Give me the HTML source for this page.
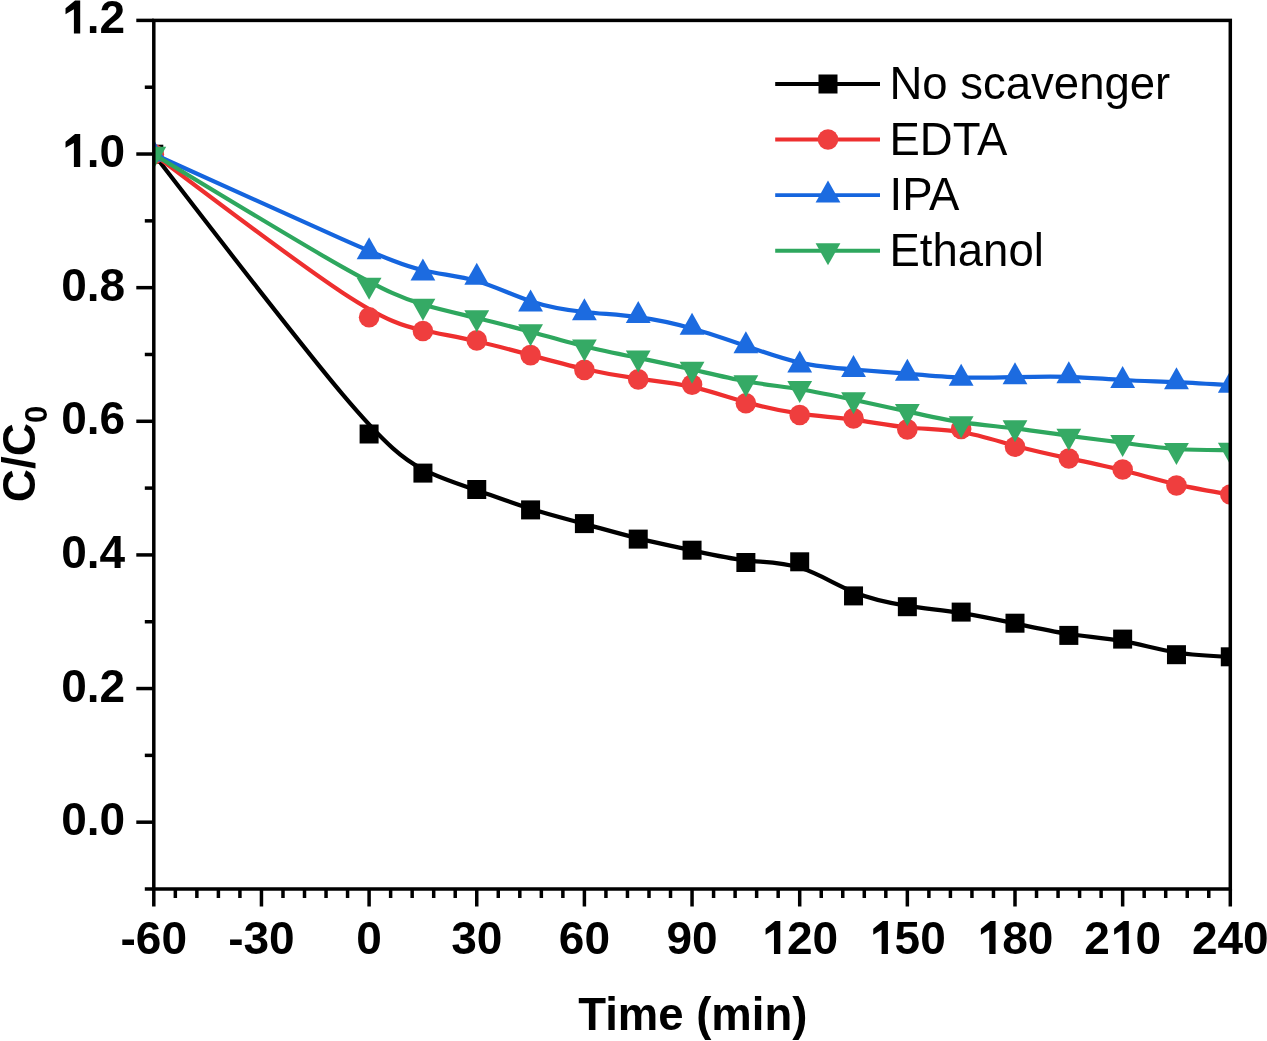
<!DOCTYPE html>
<html><head><meta charset="utf-8"><style>
html,body{margin:0;padding:0;background:#fff;}
body{width:1267px;height:1041px;overflow:hidden;}
svg{display:block;filter:blur(0.35px);}
.tl{font-family:"Liberation Sans",sans-serif;font-weight:bold;font-size:46px;fill:#000;}
.lg{font-family:"Liberation Sans",sans-serif;font-size:45.5px;fill:#000;}
</style></head><body>
<svg width="1267" height="1041" viewBox="0 0 1267 1041">
<defs><clipPath id="pc"><rect x="153.80" y="20.40" width="1076.50" height="868.60"/></clipPath></defs>
<g clip-path="url(#pc)">
<path d="M153.80,154.20C225.57,247.47 297.33,340.73 342.19,393.88C387.04,447.03 404.98,460.07 422.93,469.32C440.87,478.57 458.81,484.03 476.75,490.17C494.69,496.30 512.63,503.10 530.58,508.78C548.52,514.47 566.46,519.03 584.40,523.90C602.34,528.77 620.28,533.93 638.23,538.37C656.17,542.80 674.11,546.50 692.05,550.40C709.99,554.30 727.93,558.40 745.88,560.33C763.82,562.27 781.76,562.03 799.70,567.60C817.64,573.17 835.58,584.53 853.52,592.02C871.47,599.50 889.41,603.10 907.35,605.80C925.29,608.50 943.23,610.30 961.17,613.05C979.12,615.80 997.06,619.50 1015.00,623.38C1032.94,627.27 1050.88,631.33 1068.83,633.98C1086.77,636.63 1104.71,637.87 1122.65,641.08C1140.59,644.30 1158.53,649.50 1176.47,652.45C1194.42,655.40 1212.36,656.10 1230.30,656.80" fill="none" stroke="#000000" stroke-width="4.20" stroke-linejoin="round"/>
<rect x="144.30" y="144.70" width="19.00" height="19.00" fill="#000000"/>
<rect x="359.60" y="424.50" width="19.00" height="19.00" fill="#000000"/>
<rect x="413.43" y="463.60" width="19.00" height="19.00" fill="#000000"/>
<rect x="467.25" y="480.00" width="19.00" height="19.00" fill="#000000"/>
<rect x="521.08" y="500.40" width="19.00" height="19.00" fill="#000000"/>
<rect x="574.90" y="514.10" width="19.00" height="19.00" fill="#000000"/>
<rect x="628.73" y="529.60" width="19.00" height="19.00" fill="#000000"/>
<rect x="682.55" y="540.70" width="19.00" height="19.00" fill="#000000"/>
<rect x="736.38" y="553.00" width="19.00" height="19.00" fill="#000000"/>
<rect x="790.20" y="552.30" width="19.00" height="19.00" fill="#000000"/>
<rect x="844.03" y="586.40" width="19.00" height="19.00" fill="#000000"/>
<rect x="897.85" y="597.20" width="19.00" height="19.00" fill="#000000"/>
<rect x="951.67" y="602.60" width="19.00" height="19.00" fill="#000000"/>
<rect x="1005.50" y="613.70" width="19.00" height="19.00" fill="#000000"/>
<rect x="1059.33" y="625.90" width="19.00" height="19.00" fill="#000000"/>
<rect x="1113.15" y="629.60" width="19.00" height="19.00" fill="#000000"/>
<rect x="1166.97" y="645.20" width="19.00" height="19.00" fill="#000000"/>
<rect x="1220.80" y="647.30" width="19.00" height="19.00" fill="#000000"/>
<path d="M153.80,154.20C225.57,208.57 297.33,262.93 342.19,292.40C387.04,321.87 404.98,326.43 422.93,330.28C440.87,334.13 458.81,337.27 476.75,341.28C494.69,345.30 512.63,350.20 530.58,355.12C548.52,360.03 566.46,364.97 584.40,369.02C602.34,373.07 620.28,376.23 638.23,378.68C656.17,381.13 674.11,382.87 692.05,386.85C709.99,390.83 727.93,397.07 745.88,402.13C763.82,407.20 781.76,411.10 799.70,413.62C817.64,416.13 835.58,417.27 853.52,419.67C871.47,422.07 889.41,425.73 907.35,427.48C925.29,429.23 943.23,429.07 961.17,431.97C979.12,434.87 997.06,440.83 1015.00,445.77C1032.94,450.70 1050.88,454.60 1068.83,458.38C1086.77,462.17 1104.71,465.83 1122.65,470.33C1140.59,474.83 1158.53,480.17 1176.47,484.33C1194.42,488.50 1212.36,491.50 1230.30,494.50" fill="none" stroke="#EE2F2F" stroke-width="4.20" stroke-linejoin="round"/>
<circle cx="153.80" cy="154.20" r="10.30" fill="#EF3E3E"/>
<circle cx="369.10" cy="317.30" r="10.30" fill="#EF3E3E"/>
<circle cx="422.93" cy="331.00" r="10.30" fill="#EF3E3E"/>
<circle cx="476.75" cy="340.40" r="10.30" fill="#EF3E3E"/>
<circle cx="530.58" cy="355.10" r="10.30" fill="#EF3E3E"/>
<circle cx="584.40" cy="369.90" r="10.30" fill="#EF3E3E"/>
<circle cx="638.23" cy="379.40" r="10.30" fill="#EF3E3E"/>
<circle cx="692.05" cy="384.60" r="10.30" fill="#EF3E3E"/>
<circle cx="745.88" cy="403.30" r="10.30" fill="#EF3E3E"/>
<circle cx="799.70" cy="415.00" r="10.30" fill="#EF3E3E"/>
<circle cx="853.53" cy="418.40" r="10.30" fill="#EF3E3E"/>
<circle cx="907.35" cy="429.40" r="10.30" fill="#EF3E3E"/>
<circle cx="961.17" cy="428.90" r="10.30" fill="#EF3E3E"/>
<circle cx="1015.00" cy="446.80" r="10.30" fill="#EF3E3E"/>
<circle cx="1068.83" cy="458.50" r="10.30" fill="#EF3E3E"/>
<circle cx="1122.65" cy="469.50" r="10.30" fill="#EF3E3E"/>
<circle cx="1176.47" cy="485.50" r="10.30" fill="#EF3E3E"/>
<circle cx="1230.30" cy="494.50" r="10.30" fill="#EF3E3E"/>
<path d="M153.80,154.20C225.57,186.77 297.33,219.33 342.19,239.15C387.04,258.97 404.98,266.03 422.93,270.27C440.87,274.50 458.81,275.90 476.75,281.08C494.69,286.27 512.63,295.23 530.58,301.18C548.52,307.13 566.46,310.07 584.40,311.97C602.34,313.87 620.28,314.73 638.23,317.12C656.17,319.50 674.11,323.40 692.05,328.43C709.99,333.47 727.93,339.63 745.88,345.93C763.82,352.23 781.76,358.67 799.70,362.63C817.64,366.60 835.58,368.10 853.52,369.50C871.47,370.90 889.41,372.20 907.35,373.68C925.29,375.17 943.23,376.83 961.17,377.42C979.12,378.00 997.06,377.50 1015.00,377.05C1032.94,376.60 1050.88,376.20 1068.83,376.80C1086.77,377.40 1104.71,379.00 1122.65,380.00C1140.59,381.00 1158.53,381.40 1176.47,382.20C1194.42,383.00 1212.36,384.20 1230.30,385.40" fill="none" stroke="#1565DE" stroke-width="4.20" stroke-linejoin="round"/>
<path d="M153.80,139.53L166.20,161.53L141.40,161.53Z" fill="#1C6BE0"/>
<path d="M369.10,237.23L381.50,259.23L356.70,259.23Z" fill="#1C6BE0"/>
<path d="M422.93,258.43L435.32,280.43L410.53,280.43Z" fill="#1C6BE0"/>
<path d="M476.75,262.63L489.15,284.63L464.35,284.63Z" fill="#1C6BE0"/>
<path d="M530.58,289.53L542.98,311.53L518.18,311.53Z" fill="#1C6BE0"/>
<path d="M584.40,298.33L596.80,320.33L572.00,320.33Z" fill="#1C6BE0"/>
<path d="M638.23,300.93L650.62,322.93L625.83,322.93Z" fill="#1C6BE0"/>
<path d="M692.05,312.63L704.45,334.63L679.65,334.63Z" fill="#1C6BE0"/>
<path d="M745.88,331.13L758.27,353.13L733.48,353.13Z" fill="#1C6BE0"/>
<path d="M799.70,350.43L812.10,372.43L787.30,372.43Z" fill="#1C6BE0"/>
<path d="M853.53,354.93L865.93,376.93L841.13,376.93Z" fill="#1C6BE0"/>
<path d="M907.35,358.83L919.75,380.83L894.95,380.83Z" fill="#1C6BE0"/>
<path d="M961.17,363.83L973.57,385.83L948.77,385.83Z" fill="#1C6BE0"/>
<path d="M1015.00,362.33L1027.40,384.33L1002.60,384.33Z" fill="#1C6BE0"/>
<path d="M1068.83,361.13L1081.23,383.13L1056.42,383.13Z" fill="#1C6BE0"/>
<path d="M1122.65,365.93L1135.05,387.93L1110.25,387.93Z" fill="#1C6BE0"/>
<path d="M1176.47,367.13L1188.88,389.13L1164.07,389.13Z" fill="#1C6BE0"/>
<path d="M1230.30,370.73L1242.70,392.73L1217.90,392.73Z" fill="#1C6BE0"/>
<path d="M153.80,154.20C225.57,197.87 297.33,241.53 342.19,266.87C387.04,292.20 404.98,299.20 422.93,304.58C440.87,309.97 458.81,313.73 476.75,317.97C494.69,322.20 512.63,326.90 530.58,331.80C548.52,336.70 566.46,341.80 584.40,346.17C602.34,350.53 620.28,354.17 638.23,357.87C656.17,361.57 674.11,365.33 692.05,369.45C709.99,373.57 727.93,378.03 745.88,381.25C763.82,384.47 781.76,386.43 799.70,389.30C817.64,392.17 835.58,395.93 853.52,399.77C871.47,403.60 889.41,407.50 907.35,411.47C925.29,415.43 943.23,419.47 961.17,422.17C979.12,424.87 997.06,426.23 1015.00,428.35C1032.94,430.47 1050.88,433.33 1068.83,435.80C1086.77,438.27 1104.71,440.33 1122.65,442.70C1140.59,445.07 1158.53,447.73 1176.47,449.02C1194.42,450.30 1212.36,450.20 1230.30,450.10" fill="none" stroke="#2EA75E" stroke-width="4.20" stroke-linejoin="round"/>
<path d="M141.40,146.87L166.20,146.87L153.80,168.87Z" fill="#35AA65"/>
<path d="M356.70,277.87L381.50,277.87L369.10,299.87Z" fill="#35AA65"/>
<path d="M410.53,298.87L435.32,298.87L422.93,320.87Z" fill="#35AA65"/>
<path d="M464.35,310.17L489.15,310.17L476.75,332.17Z" fill="#35AA65"/>
<path d="M518.18,324.27L542.98,324.27L530.58,346.27Z" fill="#35AA65"/>
<path d="M572.00,339.57L596.80,339.57L584.40,361.57Z" fill="#35AA65"/>
<path d="M625.83,350.47L650.62,350.47L638.23,372.47Z" fill="#35AA65"/>
<path d="M679.65,361.77L704.45,361.77L692.05,383.77Z" fill="#35AA65"/>
<path d="M733.48,375.17L758.27,375.17L745.88,397.17Z" fill="#35AA65"/>
<path d="M787.30,381.07L812.10,381.07L799.70,403.07Z" fill="#35AA65"/>
<path d="M841.13,392.37L865.93,392.37L853.53,414.37Z" fill="#35AA65"/>
<path d="M894.95,404.07L919.75,404.07L907.35,426.07Z" fill="#35AA65"/>
<path d="M948.77,416.17L973.57,416.17L961.17,438.17Z" fill="#35AA65"/>
<path d="M1002.60,420.27L1027.40,420.27L1015.00,442.27Z" fill="#35AA65"/>
<path d="M1056.42,428.87L1081.23,428.87L1068.83,450.87Z" fill="#35AA65"/>
<path d="M1110.25,435.07L1135.05,435.07L1122.65,457.07Z" fill="#35AA65"/>
<path d="M1164.07,443.07L1188.88,443.07L1176.47,465.07Z" fill="#35AA65"/>
<path d="M1217.90,442.77L1242.70,442.77L1230.30,464.77Z" fill="#35AA65"/>
</g>
<rect x="153.80" y="20.40" width="1076.50" height="868.60" fill="none" stroke="#000" stroke-width="3.50"/>
<line x1="144.80" y1="889.00" x2="153.80" y2="889.00" stroke="#000" stroke-width="3.50"/>
<line x1="136.30" y1="822.18" x2="153.80" y2="822.18" stroke="#000" stroke-width="3.50"/>
<line x1="144.80" y1="755.37" x2="153.80" y2="755.37" stroke="#000" stroke-width="3.50"/>
<line x1="136.30" y1="688.55" x2="153.80" y2="688.55" stroke="#000" stroke-width="3.50"/>
<line x1="144.80" y1="621.74" x2="153.80" y2="621.74" stroke="#000" stroke-width="3.50"/>
<line x1="136.30" y1="554.92" x2="153.80" y2="554.92" stroke="#000" stroke-width="3.50"/>
<line x1="144.80" y1="488.11" x2="153.80" y2="488.11" stroke="#000" stroke-width="3.50"/>
<line x1="136.30" y1="421.29" x2="153.80" y2="421.29" stroke="#000" stroke-width="3.50"/>
<line x1="144.80" y1="354.48" x2="153.80" y2="354.48" stroke="#000" stroke-width="3.50"/>
<line x1="136.30" y1="287.66" x2="153.80" y2="287.66" stroke="#000" stroke-width="3.50"/>
<line x1="144.80" y1="220.85" x2="153.80" y2="220.85" stroke="#000" stroke-width="3.50"/>
<line x1="136.30" y1="154.03" x2="153.80" y2="154.03" stroke="#000" stroke-width="3.50"/>
<line x1="144.80" y1="87.22" x2="153.80" y2="87.22" stroke="#000" stroke-width="3.50"/>
<line x1="136.30" y1="20.40" x2="153.80" y2="20.40" stroke="#000" stroke-width="3.50"/>
<line x1="153.80" y1="889.00" x2="153.80" y2="906.50" stroke="#000" stroke-width="3.50"/>
<line x1="175.33" y1="889.00" x2="175.33" y2="898.00" stroke="#000" stroke-width="3.50"/>
<line x1="196.86" y1="889.00" x2="196.86" y2="898.00" stroke="#000" stroke-width="3.50"/>
<line x1="218.39" y1="889.00" x2="218.39" y2="898.00" stroke="#000" stroke-width="3.50"/>
<line x1="239.92" y1="889.00" x2="239.92" y2="898.00" stroke="#000" stroke-width="3.50"/>
<line x1="261.45" y1="889.00" x2="261.45" y2="906.50" stroke="#000" stroke-width="3.50"/>
<line x1="282.98" y1="889.00" x2="282.98" y2="898.00" stroke="#000" stroke-width="3.50"/>
<line x1="304.51" y1="889.00" x2="304.51" y2="898.00" stroke="#000" stroke-width="3.50"/>
<line x1="326.04" y1="889.00" x2="326.04" y2="898.00" stroke="#000" stroke-width="3.50"/>
<line x1="347.57" y1="889.00" x2="347.57" y2="898.00" stroke="#000" stroke-width="3.50"/>
<line x1="369.10" y1="889.00" x2="369.10" y2="906.50" stroke="#000" stroke-width="3.50"/>
<line x1="390.63" y1="889.00" x2="390.63" y2="898.00" stroke="#000" stroke-width="3.50"/>
<line x1="412.16" y1="889.00" x2="412.16" y2="898.00" stroke="#000" stroke-width="3.50"/>
<line x1="433.69" y1="889.00" x2="433.69" y2="898.00" stroke="#000" stroke-width="3.50"/>
<line x1="455.22" y1="889.00" x2="455.22" y2="898.00" stroke="#000" stroke-width="3.50"/>
<line x1="476.75" y1="889.00" x2="476.75" y2="906.50" stroke="#000" stroke-width="3.50"/>
<line x1="498.28" y1="889.00" x2="498.28" y2="898.00" stroke="#000" stroke-width="3.50"/>
<line x1="519.81" y1="889.00" x2="519.81" y2="898.00" stroke="#000" stroke-width="3.50"/>
<line x1="541.34" y1="889.00" x2="541.34" y2="898.00" stroke="#000" stroke-width="3.50"/>
<line x1="562.87" y1="889.00" x2="562.87" y2="898.00" stroke="#000" stroke-width="3.50"/>
<line x1="584.40" y1="889.00" x2="584.40" y2="906.50" stroke="#000" stroke-width="3.50"/>
<line x1="605.93" y1="889.00" x2="605.93" y2="898.00" stroke="#000" stroke-width="3.50"/>
<line x1="627.46" y1="889.00" x2="627.46" y2="898.00" stroke="#000" stroke-width="3.50"/>
<line x1="648.99" y1="889.00" x2="648.99" y2="898.00" stroke="#000" stroke-width="3.50"/>
<line x1="670.52" y1="889.00" x2="670.52" y2="898.00" stroke="#000" stroke-width="3.50"/>
<line x1="692.05" y1="889.00" x2="692.05" y2="906.50" stroke="#000" stroke-width="3.50"/>
<line x1="713.58" y1="889.00" x2="713.58" y2="898.00" stroke="#000" stroke-width="3.50"/>
<line x1="735.11" y1="889.00" x2="735.11" y2="898.00" stroke="#000" stroke-width="3.50"/>
<line x1="756.64" y1="889.00" x2="756.64" y2="898.00" stroke="#000" stroke-width="3.50"/>
<line x1="778.17" y1="889.00" x2="778.17" y2="898.00" stroke="#000" stroke-width="3.50"/>
<line x1="799.70" y1="889.00" x2="799.70" y2="906.50" stroke="#000" stroke-width="3.50"/>
<line x1="821.23" y1="889.00" x2="821.23" y2="898.00" stroke="#000" stroke-width="3.50"/>
<line x1="842.76" y1="889.00" x2="842.76" y2="898.00" stroke="#000" stroke-width="3.50"/>
<line x1="864.29" y1="889.00" x2="864.29" y2="898.00" stroke="#000" stroke-width="3.50"/>
<line x1="885.82" y1="889.00" x2="885.82" y2="898.00" stroke="#000" stroke-width="3.50"/>
<line x1="907.35" y1="889.00" x2="907.35" y2="906.50" stroke="#000" stroke-width="3.50"/>
<line x1="928.88" y1="889.00" x2="928.88" y2="898.00" stroke="#000" stroke-width="3.50"/>
<line x1="950.41" y1="889.00" x2="950.41" y2="898.00" stroke="#000" stroke-width="3.50"/>
<line x1="971.94" y1="889.00" x2="971.94" y2="898.00" stroke="#000" stroke-width="3.50"/>
<line x1="993.47" y1="889.00" x2="993.47" y2="898.00" stroke="#000" stroke-width="3.50"/>
<line x1="1015.00" y1="889.00" x2="1015.00" y2="906.50" stroke="#000" stroke-width="3.50"/>
<line x1="1036.53" y1="889.00" x2="1036.53" y2="898.00" stroke="#000" stroke-width="3.50"/>
<line x1="1058.06" y1="889.00" x2="1058.06" y2="898.00" stroke="#000" stroke-width="3.50"/>
<line x1="1079.59" y1="889.00" x2="1079.59" y2="898.00" stroke="#000" stroke-width="3.50"/>
<line x1="1101.12" y1="889.00" x2="1101.12" y2="898.00" stroke="#000" stroke-width="3.50"/>
<line x1="1122.65" y1="889.00" x2="1122.65" y2="906.50" stroke="#000" stroke-width="3.50"/>
<line x1="1144.18" y1="889.00" x2="1144.18" y2="898.00" stroke="#000" stroke-width="3.50"/>
<line x1="1165.71" y1="889.00" x2="1165.71" y2="898.00" stroke="#000" stroke-width="3.50"/>
<line x1="1187.24" y1="889.00" x2="1187.24" y2="898.00" stroke="#000" stroke-width="3.50"/>
<line x1="1208.77" y1="889.00" x2="1208.77" y2="898.00" stroke="#000" stroke-width="3.50"/>
<line x1="1230.30" y1="889.00" x2="1230.30" y2="906.50" stroke="#000" stroke-width="3.50"/>
<text x="61.25" y="835.18" class="tl">0</text><text x="86.84" y="835.18" class="tl">.</text><text x="99.61" y="835.18" class="tl">0</text>
<text x="61.25" y="701.55" class="tl">0</text><text x="86.84" y="701.55" class="tl">.</text><text x="99.61" y="701.55" class="tl">2</text>
<text x="61.25" y="567.92" class="tl">0</text><text x="86.84" y="567.92" class="tl">.</text><text x="99.61" y="567.92" class="tl">4</text>
<text x="61.25" y="434.29" class="tl">0</text><text x="86.84" y="434.29" class="tl">.</text><text x="99.61" y="434.29" class="tl">6</text>
<text x="61.25" y="300.66" class="tl">0</text><text x="86.84" y="300.66" class="tl">.</text><text x="99.61" y="300.66" class="tl">8</text>
<polygon points="80.20,167.03 80.20,134.09 75.05,134.09 65.53,141.82 65.53,147.80 73.90,142.88 73.90,167.03" fill="#000"/><text x="86.84" y="167.03" class="tl">.</text><text x="99.61" y="167.03" class="tl">0</text>
<polygon points="80.20,33.40 80.20,0.46 75.05,0.46 65.53,8.19 65.53,14.17 73.90,9.25 73.90,33.40" fill="#000"/><text x="86.84" y="33.40" class="tl">.</text><text x="99.61" y="33.40" class="tl">2</text>
<text x="120.56" y="954.00" class="tl">-</text><text x="135.87" y="954.00" class="tl">6</text><text x="161.46" y="954.00" class="tl">0</text>
<text x="228.21" y="954.00" class="tl">-</text><text x="243.52" y="954.00" class="tl">3</text><text x="269.11" y="954.00" class="tl">0</text>
<text x="356.31" y="954.00" class="tl">0</text>
<text x="451.16" y="954.00" class="tl">3</text><text x="476.75" y="954.00" class="tl">0</text>
<text x="558.81" y="954.00" class="tl">6</text><text x="584.40" y="954.00" class="tl">0</text>
<text x="666.46" y="954.00" class="tl">9</text><text x="692.05" y="954.00" class="tl">0</text>
<polygon points="780.27,954.00 780.27,921.06 775.12,921.06 765.60,928.79 765.60,934.77 773.97,929.85 773.97,954.00" fill="#000"/><text x="786.91" y="954.00" class="tl">2</text><text x="812.49" y="954.00" class="tl">0</text>
<polygon points="887.92,954.00 887.92,921.06 882.77,921.06 873.25,928.79 873.25,934.77 881.62,929.85 881.62,954.00" fill="#000"/><text x="894.56" y="954.00" class="tl">5</text><text x="920.14" y="954.00" class="tl">0</text>
<polygon points="995.57,954.00 995.57,921.06 990.42,921.06 980.90,928.79 980.90,934.77 989.27,929.85 989.27,954.00" fill="#000"/><text x="1002.21" y="954.00" class="tl">8</text><text x="1027.79" y="954.00" class="tl">0</text>
<text x="1084.27" y="954.00" class="tl">2</text><polygon points="1128.81,954.00 1128.81,921.06 1123.66,921.06 1114.14,928.79 1114.14,934.77 1122.51,929.85 1122.51,954.00" fill="#000"/><text x="1135.44" y="954.00" class="tl">0</text>
<text x="1191.92" y="954.00" class="tl">2</text><text x="1217.51" y="954.00" class="tl">4</text><text x="1243.09" y="954.00" class="tl">0</text>
<text x="692.8" y="1030" text-anchor="middle" class="tl" style="font-size:45.5px">Time (min)</text>
<text transform="translate(35,454) rotate(-90)" text-anchor="middle" class="tl">C/C<tspan dy="11.5" font-size="31">0</tspan></text>
<line x1="775.2" y1="84.00" x2="880" y2="84.00" stroke="#000000" stroke-width="3.90"/>
<rect x="818.50" y="74.50" width="19.00" height="19.00" fill="#000000"/>
<text x="889.5" y="99.20" class="lg">No scavenger</text>
<line x1="775.2" y1="139.50" x2="880" y2="139.50" stroke="#EE2F2F" stroke-width="3.90"/>
<circle cx="828.00" cy="139.50" r="10.30" fill="#EF3E3E"/>
<text x="889.5" y="154.70" class="lg">EDTA</text>
<line x1="775.2" y1="195.10" x2="880" y2="195.10" stroke="#1565DE" stroke-width="3.90"/>
<path d="M828.00,180.43L840.40,202.43L815.60,202.43Z" fill="#1C6BE0"/>
<text x="889.5" y="210.30" class="lg">IPA</text>
<line x1="775.2" y1="250.70" x2="880" y2="250.70" stroke="#2EA75E" stroke-width="3.90"/>
<path d="M815.60,243.37L840.40,243.37L828.00,265.37Z" fill="#35AA65"/>
<text x="889.5" y="265.90" class="lg">Ethanol</text>
</svg>
</body></html>
